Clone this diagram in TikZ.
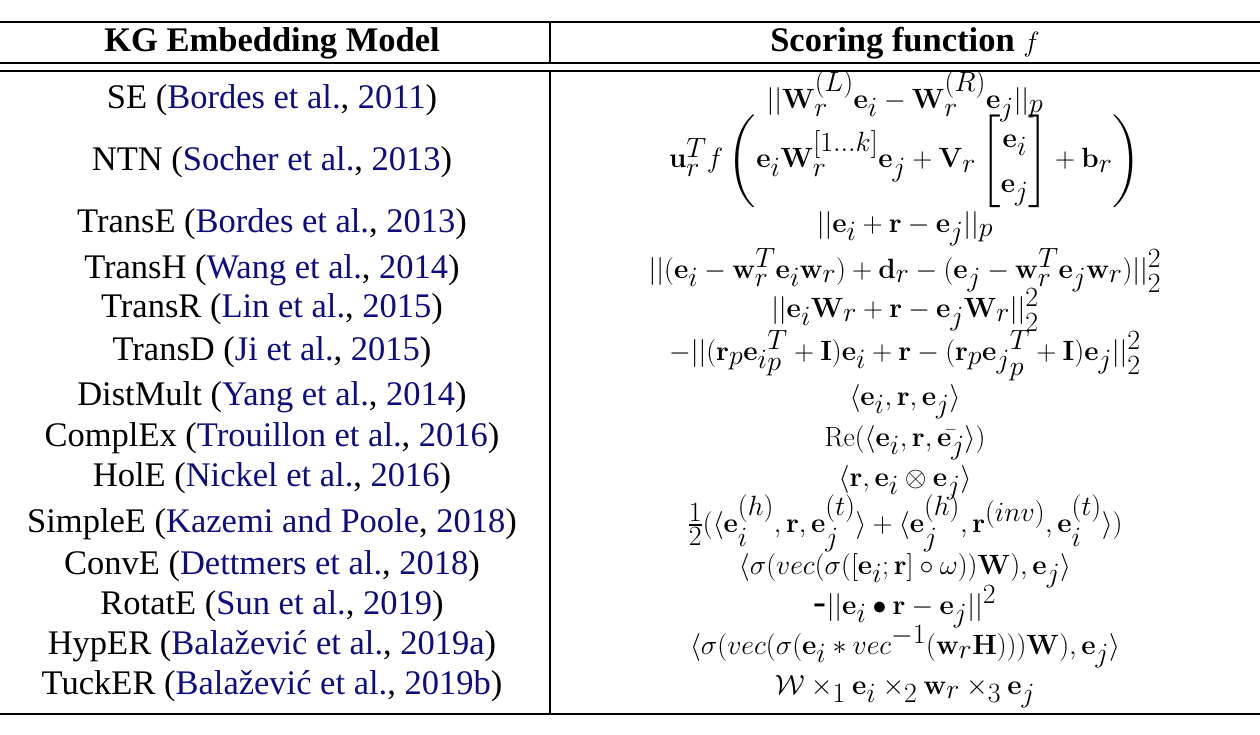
\documentclass[tikz,border=0pt]{standalone}
\usepackage{amsmath,amssymb}
\usepackage[no-math]{fontspec}
\setmainfont{Liberation Serif}
\definecolor{cite}{rgb}{0.05,0.05,0.5}
\newcommand{\ct}[1]{\textcolor{cite}{#1}}
\newcommand{\mm}[1]{\scalebox{1.12}{#1}}
\begin{document}
\begin{tikzpicture}[x=1pt,y=-1pt,
  cell/.style={anchor=base,inner sep=0,font=\fontsize{34.5}{40}\selectfont},
  rule/.style={line width=1.3pt}]
\useasboundingbox (0,0) rectangle (1260,734);
\draw[rule] (0,22) -- (1260,22);
\draw[rule] (0,63) -- (1260,63);
\draw[rule] (0,71) -- (1260,71);
\draw[rule] (0,714) -- (1260,714);
\draw[rule] (550,22) -- (550,63);
\draw[rule] (550,71) -- (550,714);
\node[cell] (h1) at (272,51) {\textbf{KG Embedding Model}};
\node[cell] (h2) at (905,51) {\textbf{Scoring function} \mm{$f$}};
\foreach \n/\y/\a/\b in {
 r1/108/{SE (\ct{Bordes et al.}, \ct{2011})}/{$||\mathbf{W}_r^{(L)}\mathbf{e}_i-\mathbf{W}_r^{(R)}\mathbf{e}_j||_p$},
 r3/232/{TransE (\ct{Bordes et al.}, \ct{2013})}/{$||\mathbf{e}_i+\mathbf{r}-\mathbf{e}_j||_p$},
 r4/278/{TransH (\ct{Wang et al.}, \ct{2014})}/{$||(\mathbf{e}_i-\mathbf{w}_r^T\mathbf{e}_i\mathbf{w}_r)+\mathbf{d}_r-(\mathbf{e}_j-\mathbf{w}_r^T\mathbf{e}_j\mathbf{w}_r)||_2^2$},
 r5/317/{TransR (\ct{Lin et al.}, \ct{2015})}/{$||\mathbf{e}_i\mathbf{W}_r+\mathbf{r}-\mathbf{e}_j\mathbf{W}_r||_2^2$},
 r6/360/{TransD (\ct{Ji et al.}, \ct{2015})}/{$-||(\mathbf{r}_p{\mathbf{e}_i}_p^T+\mathbf{I})\mathbf{e}_i+\mathbf{r}-(\mathbf{r}_p{\mathbf{e}_j}_p^T+\mathbf{I})\mathbf{e}_j||_2^2$},
 r7/405/{DistMult (\ct{Yang et al.}, \ct{2014})}/{$\langle\mathbf{e}_i,\mathbf{r},\mathbf{e}_j\rangle$},
 r8/446/{ComplEx (\ct{Trouillon et al.}, \ct{2016})}/{$\mathrm{Re}(\langle\mathbf{e}_i,\mathbf{r},\bar{\mathbf{e}_j}\rangle)$},
 r9/486/{HolE (\ct{Nickel et al.}, \ct{2016})}/{$\langle\mathbf{r},\mathbf{e}_i\otimes\mathbf{e}_j\rangle$},
 r10/532/{SimpleE (\ct{Kazemi and Poole}, \ct{2018})}/{$\frac{1}{2}(\langle\mathbf{e}_i^{(h)},\mathbf{r},\mathbf{e}_j^{(t)}\rangle+\langle\mathbf{e}_j^{(h)},\mathbf{r}^{(inv)},\mathbf{e}_i^{(t)}\rangle)$},
 r11/574/{ConvE (\ct{Dettmers et al.}, \ct{2018})}/{$\langle\sigma(vec(\sigma([\mathbf{e}_i;\mathbf{r}]\circ\omega))\mathbf{W}),\mathbf{e}_j\rangle$},
 r12/614/{RotatE (\ct{Sun et al.}, \ct{2019})}/{-$||\mathbf{e}_i\bullet\mathbf{r}-\mathbf{e}_j||^2$},
 r13/654/{HypER (\ct{Balažević et al.}, \ct{2019a})}/{$\langle\sigma(vec(\sigma(\mathbf{e}_i*vec^{-1}(\mathbf{w}_r\mathbf{H})))\mathbf{W}),\mathbf{e}_j\rangle$},
 r14/694/{TuckER (\ct{Balažević et al.}, \ct{2019b})}/{$\mathcal{W}\times_1\mathbf{e}_i\times_2\mathbf{w}_r\times_3\mathbf{e}_j$}}{
 \node[cell] (\n a) at (272,\y) {\a};
 \node[cell] (\n b) at (905,\y) {\mm{\b}};
}
\node[cell] (r2a) at (272,170) {NTN (\ct{Socher et al.}, \ct{2013})};
\node[cell,anchor=center] (r2b) at (905,161) {\mm{$\mathbf{u}_r^T f\left(\mathbf{e}_i\mathbf{W}_r^{[1\ldots k]}\mathbf{e}_j+\mathbf{V}_r\begin{bmatrix}\mathbf{e}_i\\\mathbf{e}_j\end{bmatrix}+\mathbf{b}_r\right)$}};
\end{tikzpicture}
\end{document}
